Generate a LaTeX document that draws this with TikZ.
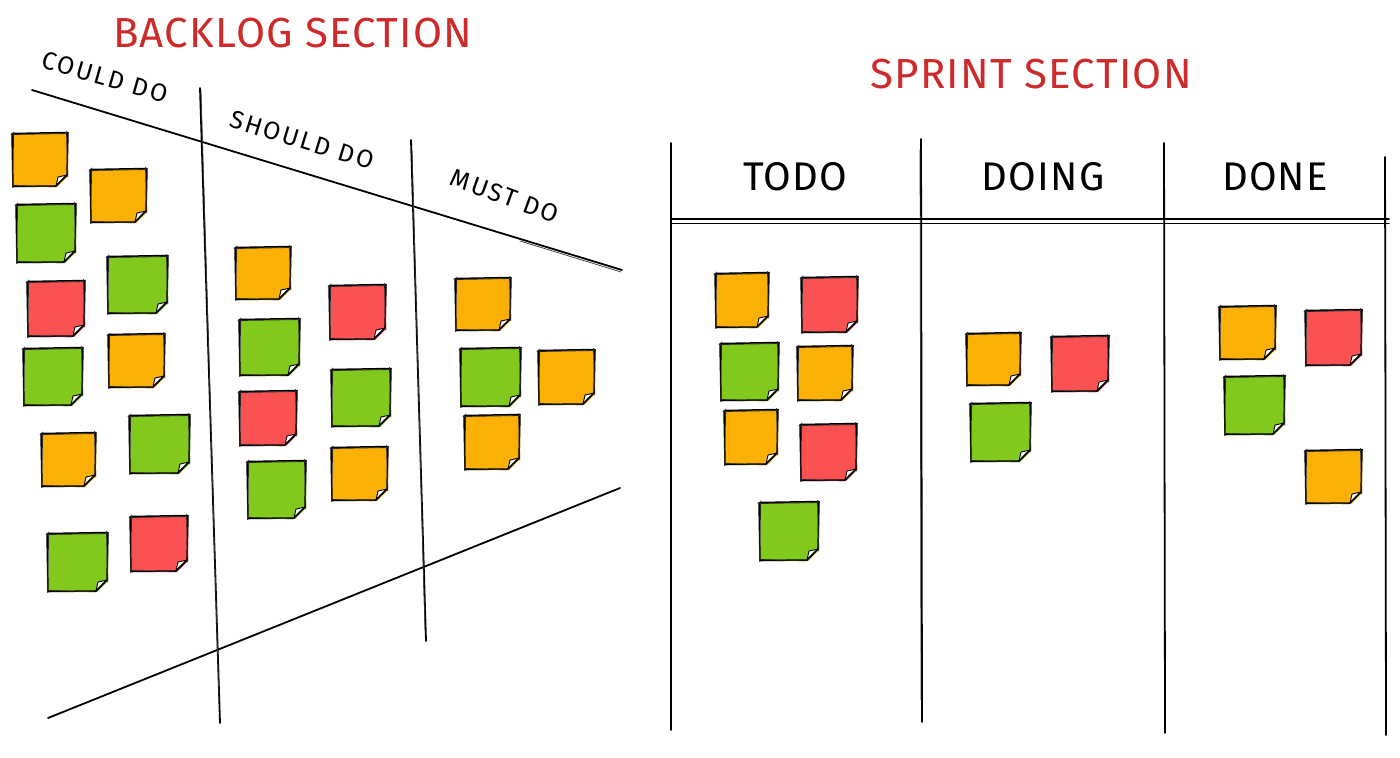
\documentclass[tikz,border=0pt]{standalone}
\usepackage{fontspec}
\setmainfont{Fira Sans}
\newfontfamily\spacedfont[LetterSpace=9]{Fira Sans}
\newfontfamily\headfont[LetterSpace=3]{Fira Sans}
\definecolor{noteO}{HTML}{FAB005}
\definecolor{noteG}{HTML}{82C91E}
\definecolor{noteR}{HTML}{FA5252}
\definecolor{titleR}{HTML}{CE2A2A}
\tikzset{
  sk/.style={draw=black,line width=0.75pt,line cap=round,line join=round},
  sktwo/.style={draw=black!85,line width=0.4pt,line cap=round},
  boardline/.style={draw=black,line width=0.9pt,line cap=round},
  boardthin/.style={draw=black!80,line width=0.35pt,line cap=round},
  sectiontitle/.style={text=titleR,font=\headfont\fontsize{21}{24}\selectfont,inner sep=0pt},
  colhead/.style={text=black,font=\headfont\fontsize{20}{24}\selectfont,inner sep=0pt},
  prio/.style={text=black,font=\spacedfont\fontsize{12.5}{15}\selectfont,inner sep=0pt},
}
\newcommand{\stickynote}[5]{%
  \fill[#5] ({#1+1},{#2+1}) -- ({#3+1},{#2}) -- ({#3+1},{#4-10}) -- ({#3-10},{#4+1}) -- ({#1},{#4+1}) -- cycle;
  \filldraw[fill=white,draw=black,line width=0.45pt,line join=round] ({#3},{#4-11}) -- ({#3-9},{#4-9}) -- ({#3-11},{#4}) -- cycle;
  \draw[sk] ({#1-1},{#2+0.5}) -- ({#3+1},{#2-0.5}) -- ({#3},{#4-11}) -- ({#3-11},{#4}) -- ({#1},{#4+0.5}) -- cycle;
  \draw[sktwo] ({#1-2},{#2+1.5}) -- ({#3+1},{#2+0.5});
  \draw[sktwo] ({#3-0.5},{#2-1.5}) -- ({#3+0.8},{#4-9});
  \draw[sktwo] ({#3-12},{#4+0.8}) -- ({#1+0.5},{#4-0.5});
  \draw[sktwo] ({#1+0.7},{#2-1}) -- ({#1-0.5},{#4+1.5});
}
\begin{document}
\begin{tikzpicture}[x=0.5pt,y=-0.5pt]
\useasboundingbox (0,0) rectangle (1400,757);
\fill[white] (0,0) rectangle (1400,757);

% ---------- Backlog section ----------
\node[sectiontitle] (backlogtitle) at (293,33) {BACKLOG SECTION};
\node[prio,rotate=-16] (could) at (105,77) {COULD DO};
\node[prio,rotate=-17] (should) at (302,140) {SHOULD DO};
\node[prio,rotate=-20] (must) at (505,196) {MUST DO};

\coordinate (tl) at (32,90);
\coordinate (tr) at (622,270);
\coordinate (bl) at (48,718);
\coordinate (br) at (620,488);
\draw[boardline] (tl) -- (tr);
\draw[boardthin] (520,241) -- (621,272);
\draw[boardline] (bl) -- (br);
\draw[boardline] (200,88) -- (220,723);
\draw[boardthin] (201,90) -- (219,700);
\draw[boardline] (411,140) -- (426,641);
\draw[boardthin] (412,150) -- (425,630);

% could do
\stickynote{13}{133}{67}{186}{noteO}
\stickynote{91}{169}{146}{222}{noteO}
\stickynote{17}{204}{75}{262}{noteG}
\stickynote{108}{256}{167}{313}{noteG}
\stickynote{28}{281}{84}{336}{noteR}
\stickynote{24}{348}{82}{405}{noteG}
\stickynote{109}{334}{164}{387}{noteO}
\stickynote{42}{433}{95}{486}{noteO}
\stickynote{130}{415}{189}{473}{noteG}
\stickynote{48}{533}{107}{591}{noteG}
\stickynote{131}{516}{187}{571}{noteR}
% should do
\stickynote{236}{247}{290}{299}{noteO}
\stickynote{330}{285}{385}{339}{noteR}
\stickynote{240}{319}{299}{375}{noteG}
\stickynote{332}{369}{390}{426}{noteG}
\stickynote{240}{391}{296}{445}{noteR}
\stickynote{248}{461}{305}{518}{noteG}
\stickynote{332}{447}{387}{500}{noteO}
% must do
\stickynote{456}{278}{510}{330}{noteO}
\stickynote{461}{348}{520}{406}{noteG}
\stickynote{539}{350}{594}{404}{noteO}
\stickynote{465}{415}{519}{469}{noteO}

% ---------- Sprint section ----------
\node[sectiontitle] (sprinttitle) at (1031,74) {SPRINT SECTION};
\node[colhead] (todo) at (795,177) {TODO};
\node[colhead] (doing) at (1043,177) {DOING};
\node[colhead] (done) at (1275,177) {DONE};

\draw[boardline] (671,143) -- (671,730);
\draw[boardline] (921,139) -- (922,722);
\draw[boardline] (1164,143) -- (1165,733);
\draw[boardline] (1385,157) -- (1386,735);
\draw[boardthin] (920,150) -- (921,700);
\draw[boardline] (671,219) -- (1389,219);
\draw[boardline] (671,223.5) -- (1389,223.5);

% todo
\stickynote{716}{273}{768}{327}{noteO}
\stickynote{802}{277}{857}{332}{noteR}
\stickynote{721}{343}{778}{400}{noteG}
\stickynote{798}{346}{852}{400}{noteO}
\stickynote{725}{410}{777}{464}{noteO}
\stickynote{801}{424}{856}{480}{noteR}
\stickynote{760}{502}{818}{560}{noteG}
% doing
\stickynote{967}{333}{1020}{385}{noteO}
\stickynote{1052}{336}{1108}{391}{noteR}
\stickynote{971}{403}{1030}{461}{noteG}
% done
\stickynote{1220}{306}{1275}{359}{noteO}
\stickynote{1306}{310}{1361}{365}{noteR}
\stickynote{1225}{376}{1284}{434}{noteG}
\stickynote{1306}{450}{1361}{503}{noteO}
\end{tikzpicture}
\end{document}
